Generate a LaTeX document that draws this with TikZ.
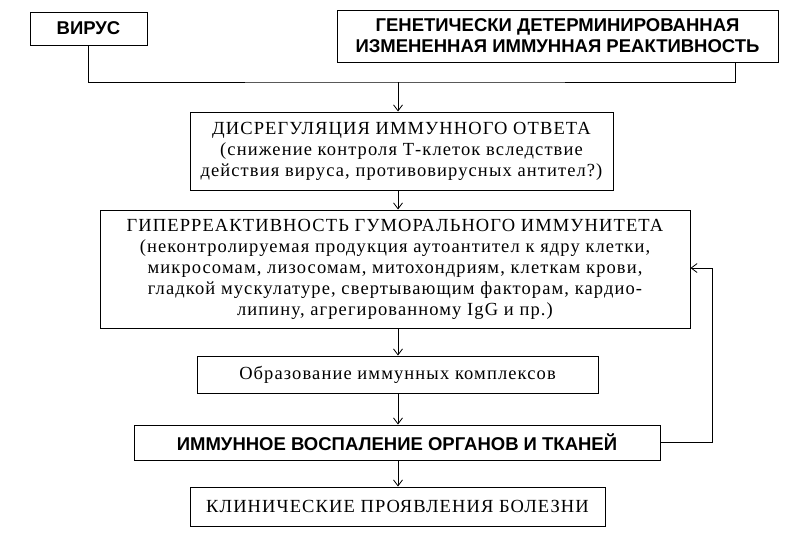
\documentclass[tikz,border=0pt]{standalone}
\usepackage{fontspec}
\setmainfont{Liberation Serif}[LetterSpace=6]
\newfontfamily\boldsans{Liberation Sans}
\usetikzlibrary{arrows.meta}
\tikzset{
  box/.style={draw,line width=1pt,inner sep=2pt,align=center,font=\fontsize{18.5}{21}\selectfont},
  boldbox/.style={box,font=\boldsans\bfseries\fontsize{18.5}{21}\selectfont},
  link/.style={line width=0.8pt,-{Straight Barb[length=6pt,width=9pt]}}
}
\begin{document}
\begin{tikzpicture}[x=1pt,y=-1pt]
  \useasboundingbox (0,0) rectangle (792,539);
  \node[boldbox,minimum width=117,minimum height=33] (virus) at (88.5,28.5) {ВИРУС};
  \node[boldbox,minimum width=441,minimum height=52] (genet) at (557.5,36)
    {ГЕНЕТИЧЕСКИ ДЕТЕРМИНИРОВАННАЯ\\ИЗМЕНЕННАЯ ИММУННАЯ РЕАКТИВНОСТЬ};
  \node[box,minimum width=423,minimum height=78] (disreg) at (401.5,151)
    {ДИСРЕГУЛЯЦИЯ ИММУННОГО ОТВЕТА\\(снижение контроля Т-клеток вследствие\\действия вируса, противовирусных антител?)};
  \node[box,minimum width=590,minimum height=118] (hyper) at (395,269)
    {ГИПЕРРЕАКТИВНОСТЬ ГУМОРАЛЬНОГО ИММУНИТЕТА\\(неконтролируемая продукция аутоантител к ядру клетки,\\микросомам, лизосомам, митохондриям, клеткам крови,\\гладкой мускулатуре, свертывающим факторам, кардио-\\липину, агрегированному IgG и пр.)};
  \node[box,minimum width=401,minimum height=37] (complex) at (397.5,374.5)
    {Образование иммунных комплексов};
  \node[boldbox,minimum width=526,minimum height=35] (inflam) at (397,442.5)
    {ИММУННОЕ ВОСПАЛЕНИЕ ОРГАНОВ И ТКАНЕЙ};
  \node[box,minimum width=415,minimum height=39] (clinic) at (397.5,506.5)
    {КЛИНИЧЕСКИЕ ПРОЯВЛЕНИЯ БОЛЕЗНИ};
  \coordinate (join) at (398,82);
  \draw[line width=0.8pt] (virus.south) |- (join) -| (genet.south -| 735,0);
  \draw[link] (join) -- (disreg.north -| join);
  \draw[link] (disreg.south -| join) -- (hyper.north -| join);
  \draw[link] (hyper.south -| join) -- (complex.north -| join);
  \draw[link] (complex.south -| join) -- (inflam.north -| join);
  \draw[link] (inflam.south -| join) -- (clinic.north -| join);
  \draw[link] (inflam.east) -- (712,442.5) |- (hyper.east |- 0,268);
\end{tikzpicture}
\end{document}
